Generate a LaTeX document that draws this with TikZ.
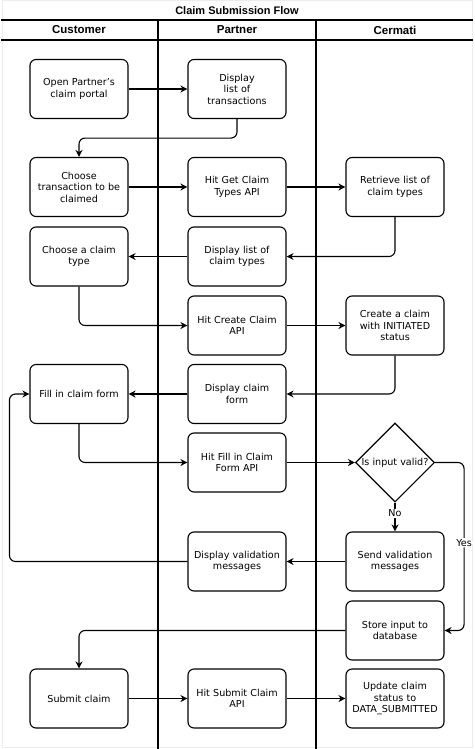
\documentclass[tikz,border=0pt]{standalone}
\usepackage{fontspec}
\setmainfont{DejaVu Sans}
\newfontfamily\hdfont{Liberation Sans}
\usetikzlibrary{shapes.geometric,arrows.meta}
\begin{document}
\begin{tikzpicture}[x=1pt,y=-1pt,
  box/.style={draw, rounded corners=6pt, line width=1.1pt, minimum width=98pt, minimum height=59pt,
    align=center, text width=96pt, inner sep=1pt, font=\fontsize{9.6}{11.5}\selectfont},
  dia/.style={draw, diamond, line width=1.1pt, minimum width=79pt, minimum height=79pt, inner sep=0pt},
  arr/.style={draw, line width=1.1pt, rounded corners=6pt, -{Stealth[length=7pt,width=7pt]}},
  lbl/.style={fill=white, inner sep=1pt, font=\fontsize{9.6}{11.5}\selectfont},
  title/.style={font=\hdfont\bfseries\fontsize{11}{13}\selectfont},
  lane/.style={font=\hdfont\bfseries\fontsize{11.5}{13}\selectfont},
  rule/.style={line width=1.1pt}
]
\useasboundingbox (0,0) rectangle (474,749);
\fill[white] (0,0) rectangle (474,749);
\draw[gray!15, line width=1pt] (2,1) rectangle (472,747);
% lanes
\draw[rule] (1,20) -- (473,20);
\draw[rule] (1,40) -- (473,40);
\draw[rule] (158,20) -- (158,749);
\draw[rule] (316,20) -- (316,749);
\node[title] (ttl) at (237,10.5) {Claim Submission Flow};
\node[lane] (hcus) at (79,30) {Customer};
\node[lane] (hpar) at (237,30) {Partner};
\node[lane] (hcer) at (395,30) {Cermati};
% nodes
\node[box] (open) at (79,89) {Open Partner's\\claim portal};
\node[box] (disptx) at (237,89) {Display\\list of\\transactions};
\node[box] (choosetx) at (79,187) {Choose\\transaction to be\\claimed};
\node[box] (hitget) at (237,187) {Hit Get Claim\\Types API};
\node[box] (retr) at (395,187) {Retrieve list of\\claim types};
\node[box] (choosect) at (79,256.5) {Choose a claim\\type};
\node[box] (dispct) at (237,256.5) {Display list of\\claim types};
\node[box] (hitcreate) at (237,325.5) {Hit Create Claim\\API};
\node[box] (create) at (395,325.5) {Create a claim\\with INITIATED\\status};
\node[box] (fill) at (79,394) {Fill in claim form};
\node[box] (dispform) at (237,394) {Display claim\\form};
\node[box] (hitfill) at (237,462.5) {Hit Fill in Claim\\Form API};
\node[dia] (dec) at (395,462.5) {};
\node[font=\fontsize{9.6}{11.5}\selectfont] (dectxt) at (dec.center) {Is input valid?};
\node[box] (dispval) at (237,561.5) {Display validation\\messages};
\node[box] (sendval) at (395,561.5) {Send validation\\messages};
\node[box] (store) at (395,630.5) {Store input to\\database};
\node[box] (submit) at (79,698.5) {Submit claim};
\node[box] (hitsubmit) at (237,698.5) {Hit Submit Claim\\API};
\node[box] (update) at (395,698.5) {Update claim\\status to\\DATA\_SUBMITTED};
% connectors
\draw[arr] (open) -- (disptx);
\draw[arr] (disptx.south) -- ++(0,19) -| (choosetx.north);
\draw[arr] (choosetx) -- (hitget);
\draw[arr] (hitget) -- (retr);
\draw[arr] (retr.south) |- (dispct.east);
\draw[arr] (dispct) -- (choosect);
\draw[arr] (choosect.south) |- (hitcreate.west);
\draw[arr] (hitcreate) -- (create);
\draw[arr] (create.south) |- (dispform.east);
\draw[arr] (dispform) -- (fill);
\draw[arr] (fill.south) |- (hitfill.west);
\draw[arr] (hitfill) -- (dec.west);
\draw[arr] (dec.south) -- node[lbl, pos=0.38]{No} (sendval.north);
\draw[arr] (dec.east) -- ++(29,0) |- node[lbl, pos=0.239]{Yes} (store.east);
\draw[arr] (sendval) -- (dispval);
\draw[arr] (dispval.west) -- ++(-178,0) |- (fill.west);
\draw[arr] (store.west) -| (submit.north);
\draw[arr] (submit) -- (hitsubmit);
\draw[arr] (hitsubmit) -- (update);
\end{tikzpicture}
\end{document}
